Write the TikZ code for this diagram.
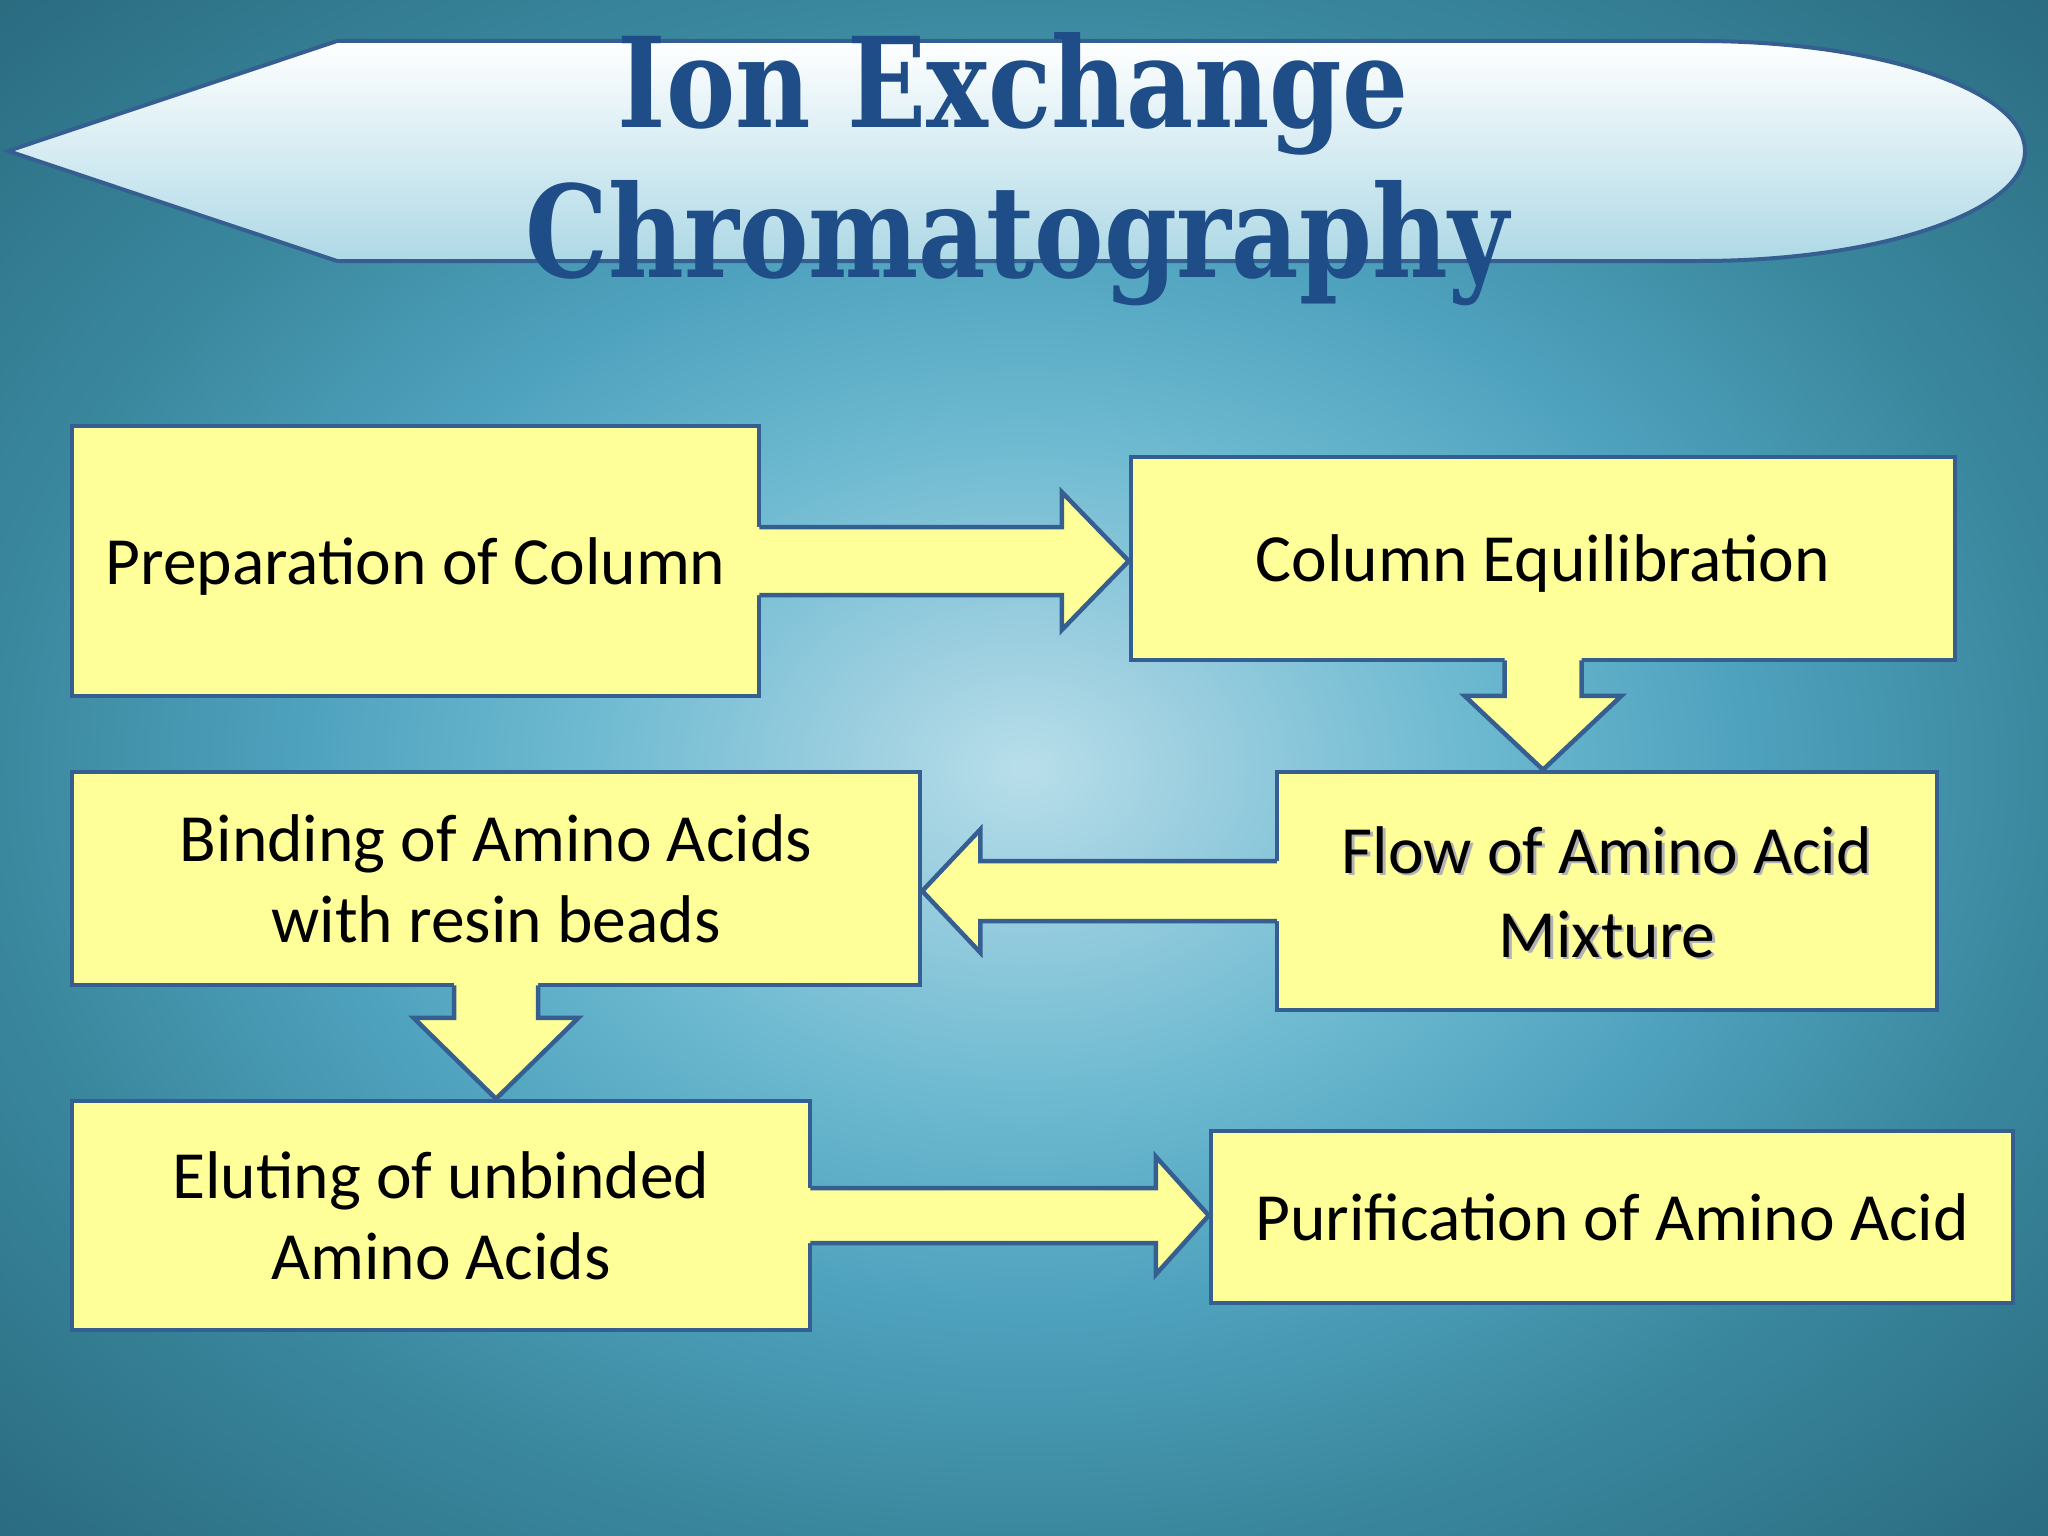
\documentclass[tikz,border=0pt]{standalone}
\usepackage{graphicx}
\usepackage{fontspec}
\setmainfont{Carlito}
\newfontfamily\titlefont{DejaVu Serif}
\usetikzlibrary{calc}
\definecolor{boxfill}{HTML}{FFFF99}
\definecolor{boxline}{HTML}{365F91}
\definecolor{titleblue}{HTML}{1F4D88}
\definecolor{bannerbot}{HTML}{AED9E6}
\definecolor{bgA}{HTML}{B8DEEA}
\definecolor{bgB}{HTML}{96CCDE}
\definecolor{bgC}{HTML}{6CB9D0}
\definecolor{bgD}{HTML}{4FA2BE}
\definecolor{bgE}{HTML}{3A889E}
\definecolor{bgF}{HTML}{2A6B80}
\pgfdeclareradialshading{bgshade}{\pgfpoint{0bp}{0bp}}{color(0bp)=(bgA); color(5bp)=(bgB); color(11bp)=(bgC); color(17.5bp)=(bgD); color(25bp)=(bgE); color(35.5bp)=(bgF); color(50bp)=(bgF)}
\begin{document}
\begin{tikzpicture}[x=1pt,y=-1pt,
  box/.style={draw=boxline, fill=boxfill, line width=4.5pt, inner sep=0pt, align=center,
    font=\fontsize{67.5}{81}\selectfont, text=black},
  arr/.style={draw=boxline, line width=4.5pt, line join=miter},
  lbl/.style={inner sep=0pt, align=center, font=\fontsize{67.5}{84}\selectfont}]
\shade[shading=bgshade] (0,0) rectangle (2048,1536);
\useasboundingbox (0,0) rectangle (2048,1536);

% title banner
\shade[top color=white, bottom color=bannerbot, draw=boxline, line width=4pt, line join=miter]
  (8,151) -- (337,41) -- (1700,41) arc[start angle=-90, end angle=90, x radius=325, y radius=110] -- (337,261) -- cycle;
\node[anchor=base, inner sep=0pt, text=titleblue] (t1) at (1013,128)
  {\resizebox{790pt}{95pt}{\titlefont\bfseries Ion Exchange}};
\node[anchor=base, inner sep=0pt, text=titleblue] (t2) at (1017,277)
  {\resizebox{983pt}{97pt}{\titlefont\bfseries Chromatography}};

% boxes
\node[box, minimum width=687pt, minimum height=270pt] (b1) at (415.5,561) {\raisebox{-5pt}[\height][\depth]{Preparation of Column}};
\node[box, minimum width=824pt, minimum height=203pt] (b2) at (1543,558.5) {\raisebox{-5pt}[\height][\depth]{Column Equilibration}};
\node[box, minimum width=660pt, minimum height=238pt] (b3) at (1607,891) {};
\node[box, minimum width=848pt, minimum height=213pt] (b4) at (496,878.5) {Binding of Amino Acids\\with resin beads};
\node[box, minimum width=738pt, minimum height=229pt] (b5) at (441,1215.5) {Eluting of unbinded\\Amino Acids};
\node[box, minimum width=802pt, minimum height=172pt] (b6) at (1612,1217) {Purification of Amino Acid};
\node[lbl, text=black!30] (b3s) at ($(b3.center)+(2.5,3.5)$) {Flow of Amino Acid\\Mixture};
\node[lbl, text=black] (b3t) at ($(b3.center)+(0,1)$) {Flow of Amino Acid\\Mixture};

% arrow 1: b1 -> b2
\coordinate (T1) at (b2.west |- b1.east);
\fill[boxfill] ($(b1.east)+(-6,-34)$) -- ($(T1)+(-67,-34)$) -- ($(T1)+(-67,-69)$) -- (T1)
  -- ($(T1)+(-67,69)$) -- ($(T1)+(-67,34)$) -- ($(b1.east)+(-6,34)$) -- cycle;
\draw[arr] ($(b1.east)+(-2,-34)$) -- ($(T1)+(-67,-34)$) -- ($(T1)+(-67,-69)$) -- (T1)
  -- ($(T1)+(-67,69)$) -- ($(T1)+(-67,34)$) -- ($(b1.east)+(-2,34)$);

% arrow 2: b2 -> b3 (down)
\coordinate (T2) at (b2.south |- b3.north);
\fill[boxfill] ($(b2.south)+(-38.5,-6)$) -- ($(T2)+(-38.5,-74)$) -- ($(T2)+(-78.5,-74)$) -- (T2)
  -- ($(T2)+(78.5,-74)$) -- ($(T2)+(38.5,-74)$) -- ($(b2.south)+(38.5,-6)$) -- cycle;
\draw[arr] ($(b2.south)+(-38.5,-2)$) -- ($(T2)+(-38.5,-74)$) -- ($(T2)+(-78.5,-74)$) -- (T2)
  -- ($(T2)+(78.5,-74)$) -- ($(T2)+(38.5,-74)$) -- ($(b2.south)+(38.5,-2)$);

% arrow 3: b3 -> b4 (left)
\coordinate (T3) at (b4.east |- b3.west);
\fill[boxfill] ($(b3.west)+(6,-30)$) -- ($(T3)+(58,-30)$) -- ($(T3)+(58,-61.5)$) -- (T3)
  -- ($(T3)+(58,61.5)$) -- ($(T3)+(58,30)$) -- ($(b3.west)+(6,30)$) -- cycle;
\draw[arr] ($(b3.west)+(2,-30)$) -- ($(T3)+(58,-30)$) -- ($(T3)+(58,-61.5)$) -- (T3)
  -- ($(T3)+(58,61.5)$) -- ($(T3)+(58,30)$) -- ($(b3.west)+(2,30)$);

% arrow 4: b4 -> b5 (down)
\coordinate (T4) at (b4.south |- b5.north);
\fill[boxfill] ($(b4.south)+(-42,-6)$) -- ($(T4)+(-42,-81)$) -- ($(T4)+(-82.5,-81)$) -- (T4)
  -- ($(T4)+(82.5,-81)$) -- ($(T4)+(42,-81)$) -- ($(b4.south)+(42,-6)$) -- cycle;
\draw[arr] ($(b4.south)+(-42,-2)$) -- ($(T4)+(-42,-81)$) -- ($(T4)+(-82.5,-81)$) -- (T4)
  -- ($(T4)+(82.5,-81)$) -- ($(T4)+(42,-81)$) -- ($(b4.south)+(42,-2)$);

% arrow 5: b5 -> b6
\coordinate (T5) at (b6.west |- b5.east);
\fill[boxfill] ($(b5.east)+(-6,-27.5)$) -- ($(T5)+(-53,-27.5)$) -- ($(T5)+(-53,-59)$) -- (T5)
  -- ($(T5)+(-53,59)$) -- ($(T5)+(-53,27.5)$) -- ($(b5.east)+(-6,27.5)$) -- cycle;
\draw[arr] ($(b5.east)+(-2,-27.5)$) -- ($(T5)+(-53,-27.5)$) -- ($(T5)+(-53,-59)$) -- (T5)
  -- ($(T5)+(-53,59)$) -- ($(T5)+(-53,27.5)$) -- ($(b5.east)+(-2,27.5)$);
\end{tikzpicture}
\end{document}
